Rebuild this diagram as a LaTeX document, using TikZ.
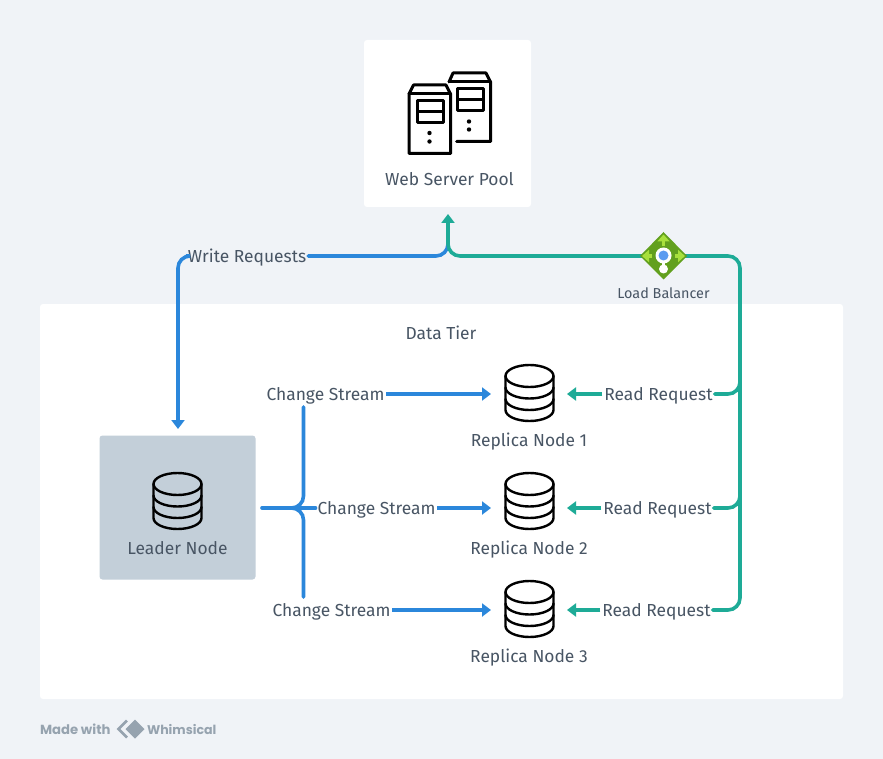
\documentclass[tikz,border=0pt]{standalone}
\usepackage{fontspec}
\setmainfont{Fira Sans}
\newfontfamily\logofont{Poppins}
\usetikzlibrary{arrows.meta}
\definecolor{pageBg}{RGB}{240,243,247}
\definecolor{leaderFill}{RGB}{195,207,217}
\definecolor{labelInk}{RGB}{72,85,100}
\definecolor{writeBlue}{RGB}{43,135,219}
\definecolor{readTeal}{RGB}{30,171,151}
\definecolor{lbGreen}{RGB}{98,160,30}
\definecolor{lbArrow}{RGB}{168,224,60}
\definecolor{lbDot}{RGB}{90,155,240}
\definecolor{logoGrey}{RGB}{150,163,175}
\tikzset{
  panel/.style={draw=none,fill=white,rounded corners=3pt,inner sep=0pt},
  lbl/.style={text=labelInk,font=\fontsize{17.4}{18}\selectfont,inner sep=0pt,outer sep=2pt,text height=12.5pt,text depth=0.5pt},
  lblsmall/.style={text=labelInk,font=\fontsize{14.4}{16}\selectfont,inner sep=0pt,outer sep=0pt,text height=10.5pt,text depth=0.5pt},
  flow/.style={line width=3.6pt,rounded corners=12pt,line cap=round},
  tipped/.style={-{Triangle[length=9pt,width=13pt]},line cap=butt},
  blueflow/.style={flow,draw=writeBlue},
  tealflow/.style={flow,draw=readTeal},
  icon/.style={draw=black,line width=2.4pt,line join=round,line cap=round},
  srv/.style={draw=black,line width=3pt,line join=round,line cap=round},
  dbbox/.style={minimum width=50pt,minimum height=58pt,inner sep=0pt,outer sep=0pt},
  logotext/.style={text=logoGrey,font=\logofont\bfseries\fontsize{12.6}{15}\selectfont,inner sep=0pt,outer sep=0pt},
  lbtip/.style={draw=lbArrow,line width=3.4pt,-{Triangle[length=7pt,width=12pt]}},
  dbicon/.pic={
    \draw[icon] (0,-17) ellipse [x radius=24pt,y radius=11pt];
    \draw[icon] (-24,-17) -- (-24,17) arc [start angle=180,end angle=360,x radius=24pt,y radius=11pt] -- (24,-17);
    \draw[icon] (-24,-5.5) arc [start angle=180,end angle=360,x radius=24pt,y radius=11pt];
    \draw[icon] (-24,6) arc [start angle=180,end angle=360,x radius=24pt,y radius=11pt];
  },
  servericon/.pic={
    % back unit, open at its lower left
    \draw[srv] (449,82) -- (453,73) -- (486,73) -- (490.5,82) -- (490.5,141.5) -- (456.5,141.5);
    \draw[srv] (449,82) -- (490.5,82);
    \draw[srv] (457.5,88.5) rectangle (483,110.5);
    \draw[srv] (457.5,100) -- (483,100);
    \fill (469,121.5) circle (2.2pt) (469,129.5) circle (2.2pt);
    % front unit
    \draw[srv] (409,94) -- (413.5,85) -- (446,85) -- (450.5,94) -- (450.5,153.5) -- (409,153.5) -- cycle;
    \draw[srv] (409,94) -- (450.5,94);
    \draw[srv] (417.5,101) rectangle (443,122.5);
    \draw[srv] (417.5,112) -- (443,112);
    \fill (429.5,133) circle (2.2pt) (429.5,141.5) circle (2.2pt);
  }
}
\begin{document}
\begin{tikzpicture}[x=1pt,y=-1pt]
\path[use as bounding box,fill=pageBg] (0,0) rectangle (883,759);

% panels
\node[panel,minimum width=167pt,minimum height=167pt] (web) at (447.5,123.5) {};
\node[panel,minimum width=803pt,minimum height=395pt] (tier) at (441.5,501.5) {};
\node[panel,fill=leaderFill,minimum width=156pt,minimum height=144pt] (leader) at (177.5,507.5) {};

% icons
\pic at (0,0) {servericon};
\node[dbbox] (leaderdb) at (177.5,501) {};
\pic at (leaderdb) {dbicon};
\node[dbbox] (rep1) at (529.5,393) {};
\node[dbbox] (rep2) at (529.5,501) {};
\node[dbbox] (rep3) at (529.5,609) {};
\pic at (rep1) {dbicon};
\pic at (rep2) {dbicon};
\pic at (rep3) {dbicon};

% labels
\node[lbl] (weblabel) at (449.5,180) {Web Server Pool};
\node[lbl] (tierlabel) at (441,333.5) {Data Tier};
\node[lbl] (leaderlabel) at (177.5,548) {Leader Node};
\node[lbl] (replabel1) at (529,440) {Replica Node 1};
\node[lbl] (replabel2) at (529,548) {Replica Node 2};
\node[lbl] (replabel3) at (529,656) {Replica Node 3};
\node[lbl] (write) at (247,256) {Write Requests};
\node[lbl] (cs1) at (325.5,394) {Change Stream};
\node[lbl] (cs2) at (376.5,508) {Change Stream};
\node[lbl] (cs3) at (331.5,610) {Change Stream};
\node[lbl] (rr1) at (658.5,394) {Read Request};
\node[lbl] (rr2) at (657.5,508) {Read Request};
\node[lbl] (rr3) at (656.5,610) {Read Request};
\node[lblsmall] (lblabel) at (663.5,293.5) {Load Balancer};

% junction points
\coordinate (webin) at (448,214);
\coordinate (leaderin) at (178,429);
\coordinate (leaderout) at (262,508);
\coordinate (branchtop) at (303.5,407);
\coordinate (branchbot) at (303.5,597);
\coordinate (branchmid) at (290,508);
\coordinate (lb) at (663.5,256);
\coordinate (rail) at (740,256);

% write path
\draw[blueflow] (write.east) -- (448,256) -- (448,236);
\draw[blueflow,tipped] (write.west) -- (178,256) -- (leaderin);

% change streams
\draw[blueflow] (leaderout) -- (cs2.west);
\draw[blueflow] (branchtop) -- (303.5,508) -- (branchmid);
\draw[blueflow] (branchbot) -- (303.5,508) -- (branchmid);
\draw[blueflow,tipped] (cs1.east) -- (491,394);
\draw[blueflow,tipped] (cs2.east) -- (491,508);
\draw[blueflow,tipped] (cs3.east) -- (491,610);

% read path
\draw[tealflow,tipped] (lb) -- (448,256) -- (webin);
\draw[tealflow] (lb) -- (rail) -- (740,610) -- (rr3.east);
\draw[tealflow] (rr1.east) -- (740,394) -- (740,370);
\draw[tealflow] (rr2.east) -- (740,508) -- (740,484);
\draw[tealflow,tipped] (rr1.west) -- (567,394);
\draw[tealflow,tipped] (rr2.west) -- (567,508);
\draw[tealflow,tipped] (rr3.west) -- (567,610);

% load balancer
\fill[lbGreen] (640,256) -- (663.5,232) -- (687,256) -- (663.5,279.5) -- cycle;
\draw[lbtip] (652,256) -- (642,256);
\draw[lbtip] (675,256) -- (685,256);
\draw[lbtip] (663.5,246) -- (663.5,234.5);
\draw[white,line width=3.5pt] (663.5,256) -- (663.5,269);
\fill[white] (663.5,269) circle (4.5pt);
\fill[white] (663.5,255.5) circle (8pt);
\fill[lbDot] (663.5,255.5) circle (5pt);

% footer
\node[logotext,anchor=west,font=\logofont\bfseries\fontsize{13.2}{15}\selectfont] (made) at (40,729) {Made with};
\node[logotext,anchor=west] (whim) at (147,729) {Whimsical};
\fill[logoGrey] (135,719.5) -- (144.5,729) -- (135,738.5) -- (125.5,729) -- cycle;
\draw[logoGrey,line width=2.5pt] (127,720.5) -- (118.5,729) -- (127,737.5);
\end{tikzpicture}
\end{document}
